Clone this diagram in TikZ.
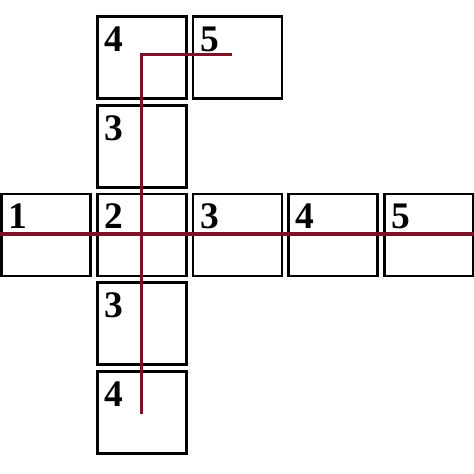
\documentclass[tikz,border=0pt]{standalone}
\usepackage{fontspec}
\setmainfont{Liberation Serif}
\usetikzlibrary{positioning}
\definecolor{wine}{RGB}{125,18,38}

\begin{document}
\begin{tikzpicture}[
cell/.style={rectangle, draw, line width=0.08cm, minimum width=2.67cm, minimum height=2.46cm, inner sep=0pt},
num/.style={anchor=north west, inner sep=0pt, outer sep=0pt, xshift=0.26cm, yshift=-0.34cm, font=\fontsize{32}{36}\selectfont\bfseries},
track/.style={draw=wine, line width=0.1cm},
node distance=0.12cm
]
\useasboundingbox (0,0) rectangle (14.22,-14.22);

% middle row
\node[cell, label={[num]north west:1}] (r1) at (1.383,-7.05) {};
\node[cell, right=of r1, label={[num]north west:2}] (r2) {};
\node[cell, right=of r2, label={[num]north west:3}] (r3) {};
\node[cell, right=of r3, label={[num]north west:4}] (r4) {};
\node[cell, right=of r4, label={[num]north west:5}] (r5) {};
% column above
\node[cell, above=of r2, label={[num]north west:3}] (u3) {};
\node[cell, above=of u3, label={[num]north west:4}] (u4) {};
\node[cell, right=of u4, label={[num]north west:5}] (u5) {};
% column below
\node[cell, below=of r2, label={[num]north west:3}] (d3) {};
\node[cell, below=of d3, label={[num]north west:4}] (d4) {};

\draw[track] ([xshift=-0.1cm,yshift=0.03cm]r1.west)--([xshift=0.1cm,yshift=0.03cm]r5.east);
\draw[track] ([yshift=-0.05cm]d4.center)--([yshift=0.1cm]u4.center)--([xshift=-0.15cm,yshift=0.1cm]u5.center);
\end{tikzpicture}
\end{document}
